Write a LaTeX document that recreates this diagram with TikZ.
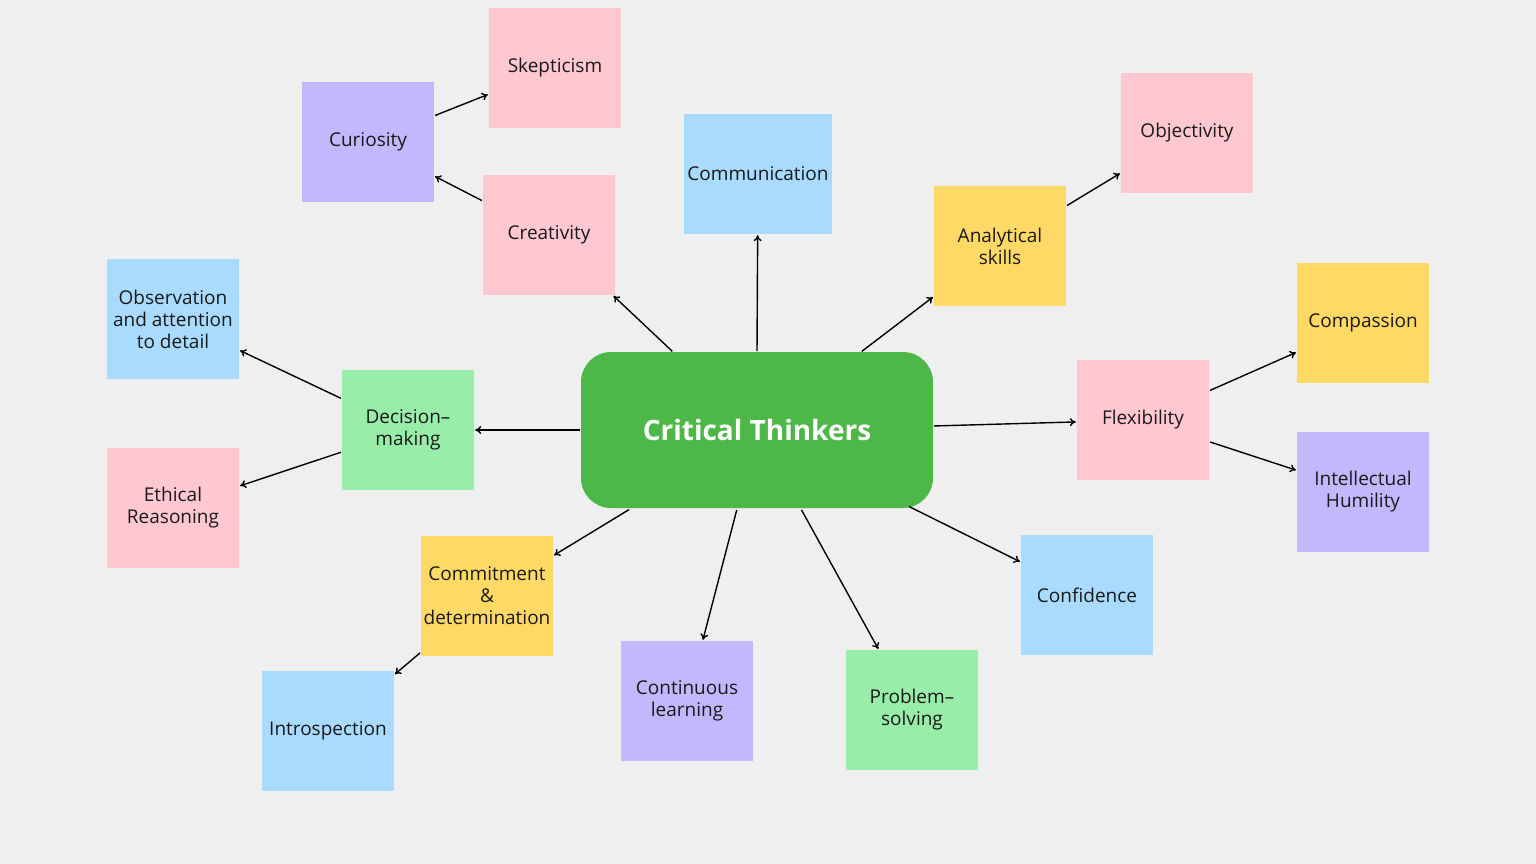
\documentclass[tikz,border=0pt]{standalone}
\usepackage{fontspec}
\setmainfont{Open Sans}
\usetikzlibrary{positioning,arrows.meta}
\definecolor{bgc}{HTML}{EFEFEF}
\definecolor{pinkc}{HTML}{FFC8D0}
\definecolor{purplec}{HTML}{C5B7FD}
\definecolor{bluec}{HTML}{A8DBFF}
\definecolor{yellowc}{HTML}{FFD966}
\definecolor{greenc}{HTML}{98EDA9}
\definecolor{mainc}{HTML}{4DB748}
\begin{document}
\begin{tikzpicture}[x=1pt,y=-1pt,
    note/.style={minimum width=132pt,minimum height=120pt,inner sep=2pt,
      align=center,font=\fontsize{19}{22}\selectfont,text=black!90},
    link/.style={-{To[length=6pt,width=8pt]},line width=1.4pt,shorten <=1pt,shorten >=1pt}]
    \fill[bgc] (0,0) rectangle (1536,864);
    \node[fill=mainc,rounded corners=30pt,minimum width=352pt,minimum height=156pt,
      text=white,font=\fontsize{28}{32}\selectfont\bfseries] (crit) at (757,430) {Critical Thinkers};

    \node[note,fill=pinkc] (skep) at (555,68) {Skepticism};
    \node[note,fill=purplec] (curi) at (368,142) {Curiosity};
    \node[note,fill=pinkc] (crea) at (549,235) {Creativity};
    \node[note,fill=bluec,minimum width=148pt] (comm) at (758,174) {Communication};
    \node[note,fill=pinkc] (obje) at (1187,133) {Objectivity};
    \node[note,fill=yellowc] (anal) at (1000,246) {Analytical\\skills};
    \node[note,fill=yellowc] (comp) at (1363,323) {Compassion};
    \node[note,fill=pinkc] (flex) at (1143,420) {Flexibility};
    \node[note,fill=purplec] (humi) at (1363,492) {Intellectual\\Humility};
    \node[note,fill=bluec] (conf) at (1087,595) {Confidence};
    \node[note,fill=greenc] (prob) at (912,710) {Problem–\\solving};
    \node[note,fill=purplec] (cont) at (687,701) {Continuous\\learning};
    \node[note,fill=yellowc] (dete) at (487,596) {Commitment\\\&\\determination};
    \node[note,fill=bluec] (intr) at (328,731) {Introspection};
    \node[note,fill=pinkc] (ethi) at (173,508) {Ethical\\Reasoning};
    \node[note,fill=bluec] (obse) at (173,319) {Observation\\and attention\\to detail};
    \node[note,fill=greenc] (deci) at (408,430) {Decision–\\making};

    % from the centre
    \draw[link] (673,352) -- (crea);
    \draw[link] (757,352) -- (comm);
    \draw[link] (861,352) -- (anal);
    \draw[link] (933,426) -- (flex);
    \draw[link] (908,506) -- (conf);
    \draw[link] (801,509) -- (prob);
    \draw[link] (737,509) -- (cont);
    \draw[link] (630,509) -- (dete);
    \draw[link] (crit) -- (deci);
    % between notes
    \draw[link] (curi) -- (skep);
    \draw[link] (crea) -- (curi);
    \draw[link] (anal) -- (obje);
    \draw[link] (flex) -- (comp);
    \draw[link] (flex) -- (humi);
    \draw[link] (deci) -- (obse);
    \draw[link] (deci) -- (ethi);
    \draw[link] (dete) -- (intr);
\end{tikzpicture}
\end{document}
